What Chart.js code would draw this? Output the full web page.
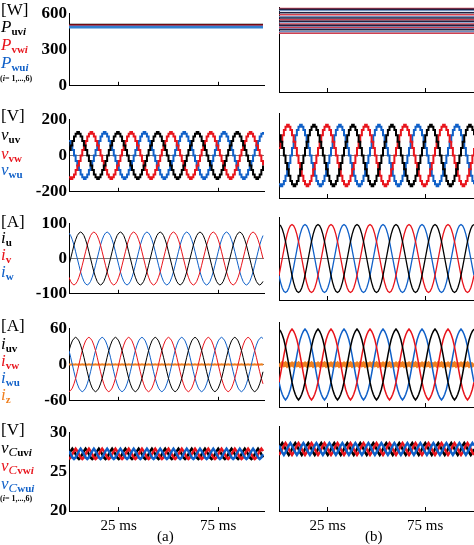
<!DOCTYPE html>
<html><head><meta charset="utf-8">
<script src="https://cdn.jsdelivr.net/npm/chart.js@4/dist/chart.umd.min.js"></script>
<style>
body{margin:0;background:#fff;width:474px;height:545px;position:relative;overflow:hidden;font-family:"Liberation Serif",serif;}
canvas{position:absolute;}
.lb{position:absolute;left:1px;font-size:17px;line-height:16px;white-space:nowrap;}
.lb i{font-style:italic;}
.lb sub{font-size:11px;font-weight:bold;vertical-align:-3px;font-style:normal;}
.sm{position:absolute;left:0;font-size:8px;font-weight:bold;}
.cap{position:absolute;font-size:15px;}
</style></head><body>
<script>
// ---- data (one-cycle samples, 24 per 20 ms period) ----
const samplesPerCycle = 24, periodMs = 20;
const powerA = {black:[500], red:[498], blue:[485]};
const powerB = {black:[585,560,522,500,472,440], red:[590,545,510,480,455,415], blue:[575,532,495,465,450,425]};
const vCycleA = [0,30,55,80,105,120,130,120,105,80,55,30,0,-30,-55,-80,-105,-120,-130,-120,-105,-80,-55,-30];
const vCycleB = [0,35,65,95,120,135,145,135,120,95,65,35,0,-35,-65,-95,-120,-135,-145,-135,-120,-95,-65,-35];
const iCycleA = [0,19,38,53,65,72,75,72,65,53,38,19,0,-19,-38,-53,-65,-72,-75,-72,-65,-53,-38,-19];
const iCycleB = [0,21,41,58,71,79,82,79,71,58,41,21,0,-21,-41,-58,-71,-79,-82,-79,-71,-58,-41,-21];
const icCycleA = [0,12,23,32,39,43,45,43,39,32,23,12,0,-12,-23,-32,-39,-43,-45,-43,-39,-32,-23,-12];
const icCycleB = [0,13,25,35,42,47,50,47,42,35,25,13,0,-13,-25,-35,-42,-47,-50,-47,-42,-35,-25,-13];
const izA = [0.5,-0.3,0.4,-0.5,0.2,-0.2];
const izB = [1,-1.2,1.5,-0.8,1.2,-1.5,0.6,-1];
const vcCycle = [27.2,27.6,27.9,27.6,27.2,26.8,26.6,26.8];
const vcCycleB = [27.3,27.7,28.0,27.7,27.3,26.9,26.6,26.9];
const xTickMs = [25,75];
const COL = {black:'#000000', red:'#e8141c', blue:'#1060c8', orange:'#f08020'};

function series(cyc, offset, xMax){
  const pts=[]; const dt=periodMs/samplesPerCycle; const n=cyc.length;
  for(let i=0;i*dt<=xMax;i++){ pts.push({x:i*dt, y:cyc[((i+offset)%n+n)%n]}); }
  return pts;
}
function ds(data,color,w,stepped){return {data,borderColor:color,borderWidth:w||1,pointRadius:0,stepped:!!stepped,tension:0};}

function make(id,left,top,width,areaH,datasets,yMin,yMax,yTicks,xMax,showY,showX){
  const c=document.createElement('canvas');
  const h=areaH+10+(showX?30:10);
  c.width=width;c.height=h;c.style.left=left+'px';c.style.top=(top-10)+'px';
  c.style.width=width+'px';c.style.height=h+'px';
  document.body.appendChild(c);
  new Chart(c,{type:'line',data:{datasets},options:{
    responsive:false,animation:false,devicePixelRatio:1,
    plugins:{legend:{display:false},tooltip:{enabled:false}},
    layout:{padding:{top:10,bottom:showX?0:10,right:showY?2:0,left:0}},
    scales:{
      x:{type:'linear',min:0,max:xMax,
        afterBuildTicks:s=>{s.ticks=xTickMs.map(v=>({value:v}));},
        afterFit:s=>{s.height=showX?30:0;},
        grid:{drawOnChartArea:false,tickLength:-4,color:'#000'},
        border:{color:'#000'},
        ticks:{display:showX,padding:10,color:'#000',font:{family:'Liberation Serif',size:15},callback:v=>v+' ms'}},
      y:{min:yMin,max:yMax,
        afterBuildTicks:s=>{s.ticks=yTicks.map(v=>({value:v}));},
        afterFit:s=>{s.width=showY?49:9;},
        grid:{drawTicks:true,tickLength:-4,color:ctx=>(ctx.tick&&ctx.tick.value===0&&yMin<0)?'#777':'rgba(0,0,0,0)'},
        border:{color:'#000'},
        ticks:{display:showY,color:'#000',padding:6,font:{family:'Liberation Serif',size:17,weight:'bold'}}}
    }}});
}
const XA=98, XB=100;
// Row 1
make('a1',20,7,246,85,[
  ds(series(powerA.blue,0,XA),'#3080d0',3), ds(series(powerA.red,0,XA),COL.red,2), ds(series(powerA.black,0,XA),COL.black,3)
],0,600,[0,300,600],XA,true,false);
const r1b=[];
powerB.black.forEach(v=>r1b.push(ds(series([v],0,XB),'#202040',1.5)));
powerB.red.forEach(v=>r1b.push(ds(series([v],0,XB),'#d04050',1.5)));
powerB.blue.forEach(v=>r1b.push(ds(series([v],0,XB),'#7090c0',1.5)));
make('b1',270,7,204,85,r1b,0,600,[0,300,600],XB,false,false);
// Row 2
make('a2',20,113,246,85,[
  ds(series(vCycleA,1,XA),COL.black,2,true), ds(series(vCycleA,-7,XA),COL.red,2,true), ds(series(vCycleA,9,XA),COL.blue,2,true)
],-200,200,[-200,0,200],XA,true,false);
make('b2',270,113,204,85,[
  ds(series(vCycleB,-15,XB),COL.black,2,true), ds(series(vCycleB,1,XB),COL.red,2,true), ds(series(vCycleB,-7,XB),COL.blue,2,true)
],-200,200,[-200,0,200],XB,false,false);
// Row 3
make('a3',20,217,246,83,[
  ds(series(iCycleA,-1,XA),COL.black), ds(series(iCycleA,-9,XA),COL.red), ds(series(iCycleA,-17,XA),COL.blue)
],-100,100,[-100,0,100],XA,true,false);
make('b3',270,217,204,83,[
  ds(series(iCycleB,6,XB),COL.black,1.3), ds(series(iCycleB,-2,XB),COL.red,1.3), ds(series(iCycleB,-10,XB),COL.blue,1.3)
],-100,100,[-100,0,100],XB,false,false);
// Row 4
make('a4',20,322,246,85,[
  ds(series(icCycleA,2,XA),COL.black), ds(series(icCycleA,-6,XA),COL.red), ds(series(icCycleA,-14,XA),COL.blue), ds(series(izA,0,XA),COL.orange,2)
],-60,60,[-60,0,60],XA,true,false);
make('b4',270,322,204,85,[
  ds(series(icCycleB,-18,XB),COL.black,1.5), ds(series(icCycleB,-2,XB),COL.red,1.5), ds(series(icCycleB,-10,XB),COL.blue,1.5), ds(series(izB,0,XB),COL.orange,4)
],-60,60,[-60,0,60],XB,false,false);
// Row 5
make('a5',20,426,246,85,[
  ds(series(vcCycle,3,XA),COL.blue,2.5), ds(series(vcCycle,6,XA),COL.red,2.5), ds(series(vcCycle,0,XA),COL.black,2.5)
],20,30,[20,25,30],XA,true,true);
make('b5',270,426,204,85,[
  ds(series(vcCycleB,3,XB),COL.blue,2.5), ds(series(vcCycleB,6,XB),COL.red,2.5), ds(series(vcCycleB,0,XB),COL.black,2.5)
],20,30,[20,25,30],XB,false,true);
</script>
<div class="lb" style="top:2px">[W]</div>
<div class="lb" style="top:19px"><i>P</i><sub>uv<i>i</i></sub></div>
<div class="lb" style="top:37px;color:#e8141c"><i>P</i><sub>vw<i>i</i></sub></div>
<div class="lb" style="top:55px;color:#1060c8"><i>P</i><sub>wu<i>i</i></sub></div>
<div class="sm" style="top:74px">(<i>i</i>= 1,...,6)</div>
<div class="lb" style="top:108px">[V]</div>
<div class="lb" style="top:127px"><i>v</i><sub>uv</sub></div>
<div class="lb" style="top:146px;color:#e8141c"><i>v</i><sub>vw</sub></div>
<div class="lb" style="top:162px;color:#1060c8"><i>v</i><sub>wu</sub></div>
<div class="lb" style="top:214px">[A]</div>
<div class="lb" style="top:230px"><i>i</i><sub>u</sub></div>
<div class="lb" style="top:247px;color:#e8141c"><i>i</i><sub>v</sub></div>
<div class="lb" style="top:264px;color:#1060c8"><i>i</i><sub>w</sub></div>
<div class="lb" style="top:318px">[A]</div>
<div class="lb" style="top:336px"><i>i</i><sub>uv</sub></div>
<div class="lb" style="top:353px;color:#e8141c"><i>i</i><sub>vw</sub></div>
<div class="lb" style="top:370px;color:#1060c8"><i>i</i><sub>wu</sub></div>
<div class="lb" style="top:387px;color:#f08020"><i>i</i><sub>z</sub></div>
<div class="lb" style="top:422px">[V]</div>
<div class="lb" style="top:440px"><i>v</i><sub><i style="font-size:13px;font-weight:normal">C</i>uv<i>i</i></sub></div>
<div class="lb" style="top:458px;color:#e8141c"><i>v</i><sub><i style="font-size:13px;font-weight:normal">C</i>vw<i>i</i></sub></div>
<div class="lb" style="top:476px;color:#1060c8"><i>v</i><sub><i style="font-size:13px;font-weight:normal">C</i>wu<i>i</i></sub></div>
<div class="sm" style="top:494px">(<i>i</i>= 1,...,6)</div>
<div class="cap" style="left:157px;top:528px">(a)</div>
<div class="cap" style="left:365px;top:528px">(b)</div>
</body></html>
